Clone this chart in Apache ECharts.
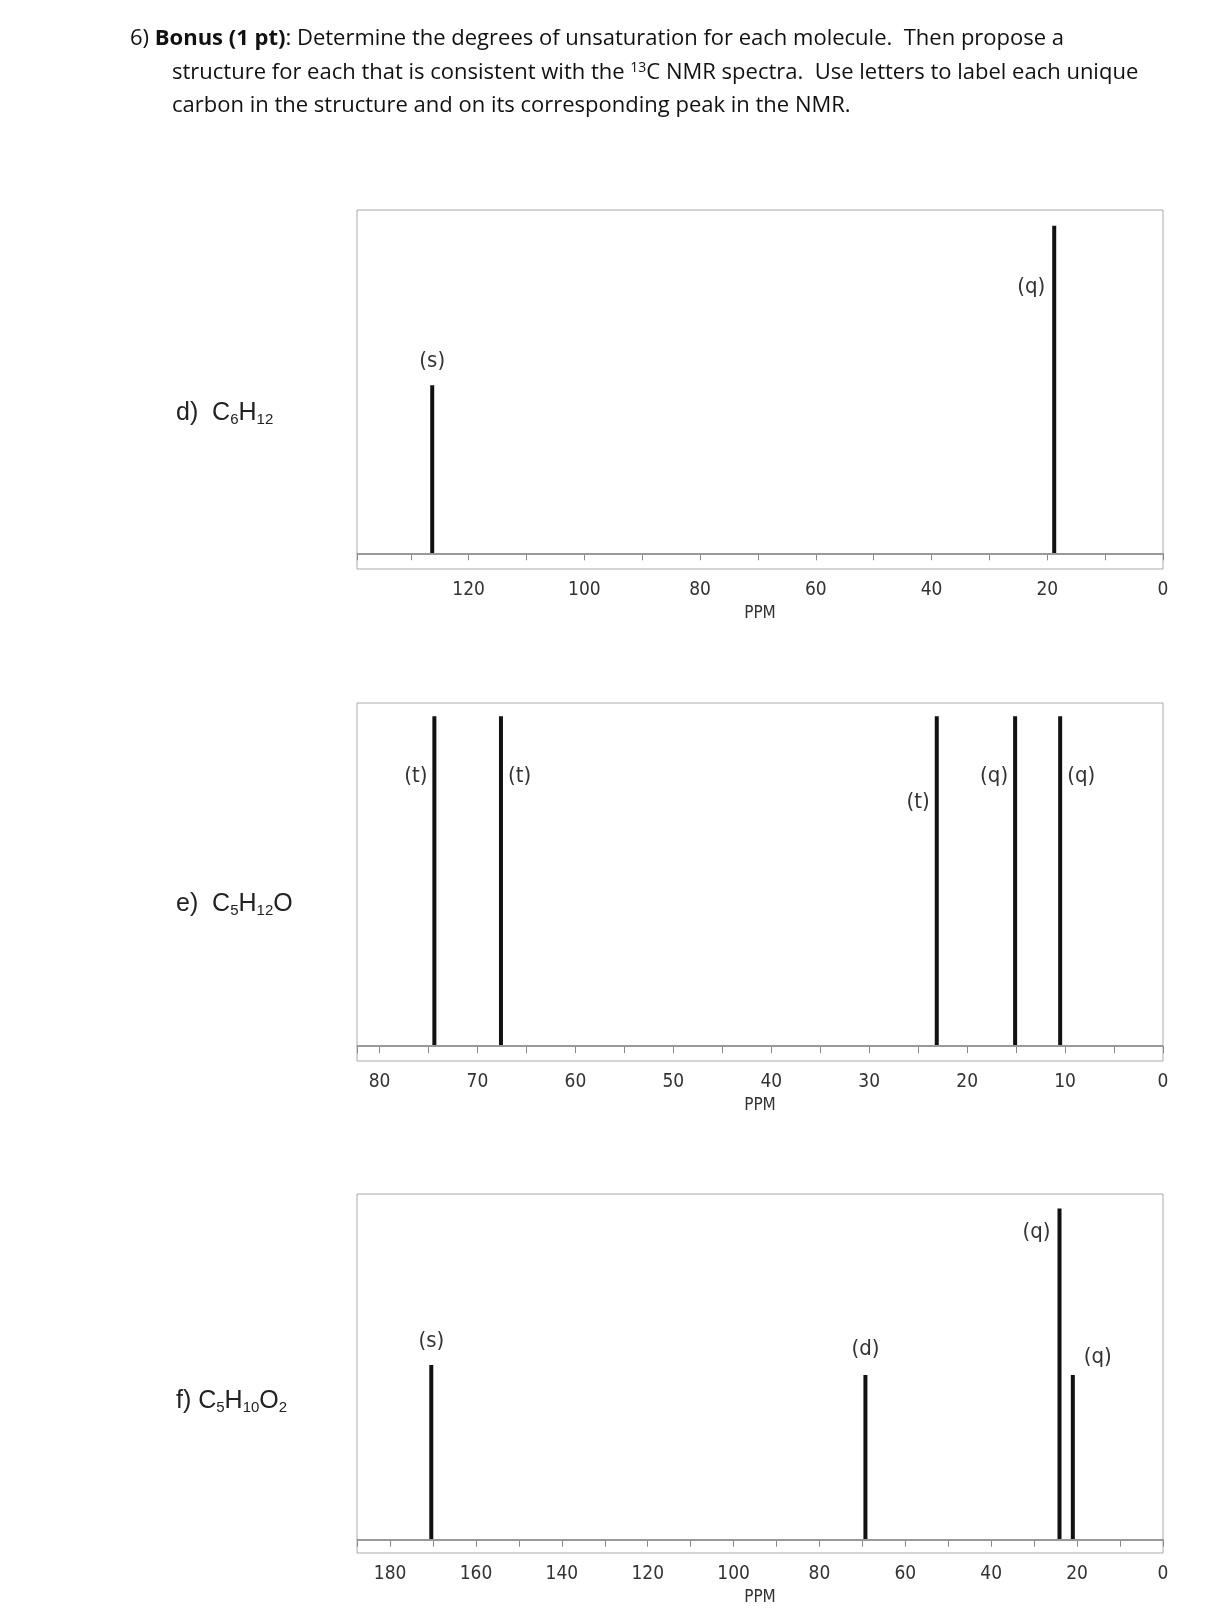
<!DOCTYPE html><html><head><meta charset="utf-8"><script src="https://cdn.jsdelivr.net/npm/echarts@6/dist/echarts.min.js"></script>
<style>html,body{margin:0;background:#fff}#c{width:1216px;height:1622px}</style></head><body><div id="c"></div><script>
const dPPM=[126.3,18.8], dH=[2.03,3.96], dLab=['(s)','(q)'];
const ePPM=[74.4,67.6,23.1,15.1,10.5], eH=[4,4,4,4,4], eLab=['(t)','(t)','(t)','(q)','(q)'];
const fPPM=[170.4,69.3,24.1,21.0], fH=[2.11,1.99,4,1.99], fLab=['(s)','(d)','(q)','(q)'];
const dPos=['top','left'], ePos=['left','right','left','left','right'], fPos=['top','top','left','right'];
const ch=echarts.init(document.getElementById('c'));
const grids=[{top:210,h:359,min:-0.19,max:4.15,xmax:139.3},{top:703,h:358,min:-0.18,max:4.16,xmax:82.3},{top:1194,h:359,min:-0.16,max:4.175,xmax:187.7}];
const ints=[20,10,20];
const data=[[dPPM,dH,dLab,dPos],[ePPM,eH,eLab,ePos],[fPPM,fH,fLab,fPos]];
const offs=[[[0,-8],[-2,-102]],[[0,-105],[0,-105],[0,-79],[0,-105],[0,-105]],[[0,-8],[0,-10],[-2,-142],[4,-100]]];
const txt={color:'#333',fontFamily:'DejaVu Sans Condensed, Liberation Sans, sans-serif',fontSize:19};
const opt={animation:false,grid:[],xAxis:[],yAxis:[],series:[],graphic:[]};
grids.forEach((g,i)=>{
 opt.grid.push({left:357,right:53,top:g.top,height:g.h,show:true,borderColor:'#aaa',borderWidth:1});
 opt.xAxis.push({type:'value',gridIndex:i,inverse:true,min:0,max:g.xmax,interval:ints[i],
  axisLine:{lineStyle:{color:'#999'}},axisTick:{length:7,lineStyle:{color:'#888'}},minorTick:{show:true,splitNumber:2,length:7,lineStyle:{color:'#888'}},
  splitLine:{show:false},axisLabel:{...txt,showMaxLabel:false,margin:12},
  name:'PPM',nameLocation:'middle',nameGap:36,nameTextStyle:{...txt,fontSize:17}});
 opt.yAxis.push({type:'value',gridIndex:i,min:g.min,max:g.max,interval:1,axisLine:{show:false},
  axisTick:{show:false},axisLabel:{show:false},splitLine:{show:false}});
 const [p,h,l,pos]=data[i];
 opt.series.push({type:'bar',xAxisIndex:i,yAxisIndex:i,barWidth:4,itemStyle:{color:'#111'},
  data:p.map((x,k)=>({value:[x,h[k]],label:{show:true,position:pos[k],offset:offs[i][k],formatter:l[k],...txt,fontSize:22}})),
  markLine:{silent:true,symbol:'none',label:{show:false},lineStyle:{color:'#999',type:'solid',width:2},data:[{yAxis:0}]}});
});
const sub={fontSize:15,verticalAlign:'bottom',padding:[12,0,0,0],color:'#222',fontFamily:'Liberation Sans'};
const base={fontSize:25,color:'#222',fontFamily:'Liberation Sans'};
function lab(y,t){opt.graphic.push({type:'text',left:176,top:y,style:{text:t,font:'25px Liberation Sans',fill:'#222',rich:{b:base,s:sub}}});}
lab(401,'{b|d)  C}{s|6}{b|H}{s|12}');
lab(892,'{b|e)  C}{s|5}{b|H}{s|12}{b|O}');
lab(1389,'{b|f) C}{s|5}{b|H}{s|10}{b|O}{s|2}');
const tf='Open Sans, sans-serif';
opt.graphic.push({type:'text',left:130,top:28,style:{text:'6) {bb|Bonus (1 pt)}: Determine the degrees of unsaturation for each molecule.  Then propose a',font:'22px '+tf,fill:'#111',rich:{bb:{fontWeight:'bold',fontSize:22,fontFamily:tf}}}});
opt.graphic.push({type:'text',left:172,top:61,style:{text:'structure for each that is consistent with the {sp|13}C NMR spectra.  Use letters to label each unique',font:'22px '+tf,fill:'#111',rich:{sp:{fontSize:14,verticalAlign:'top',padding:[0,0,10,0],fontFamily:tf}}}});
opt.graphic.push({type:'text',left:172,top:95,style:{text:'carbon in the structure and on its corresponding peak in the NMR.',font:'22px '+tf,fill:'#111'}});
ch.setOption(opt);
</script></body></html>
